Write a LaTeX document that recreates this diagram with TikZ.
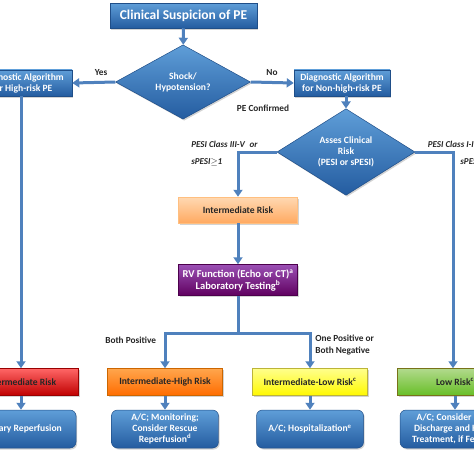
\documentclass[tikz,border=0pt]{standalone}
\usepackage{fontspec}
\setmainfont{Carlito}
\usepackage{amssymb}
\usetikzlibrary{arrows.meta,shapes.geometric,shadows,calc,positioning}

\definecolor{lineblue}{RGB}{79,129,189}
\definecolor{bluetop}{RGB}{95,158,216}
\definecolor{bluebot}{RGB}{36,92,160}

\begin{document}
\begin{tikzpicture}[x=1pt,y=-1pt,semithick]
  \tikzstyle{blk}=[rectangle, draw=bluebot!85!black, line width=0.5pt, align=center,
    top color=bluetop, bottom color=bluebot, text=white,
    font=\fontsize{9.6}{11}\selectfont\bfseries,
    drop shadow={opacity=0.35,shadow xshift=1.2pt,shadow yshift=-1.5pt}]
  \tikzstyle{dia}=[blk, diamond, inner sep=0pt]
  \tikzstyle{riskbox}=[blk, minimum width=115pt, minimum height=27pt, text=black!85]
  \tikzstyle{treat}=[blk, rounded corners=6pt, minimum height=38pt]
  \tikzstyle{flow}=[draw=lineblue, line width=3pt, -{Triangle[width=9pt,length=7pt]}]
  \tikzstyle{lbl}=[font=\fontsize{9.3}{11}\selectfont\bfseries, text=black!85, inner sep=0pt]
  \tikzstyle{pesi}=[lbl, font=\fontsize{9}{17}\selectfont\bfseries\itshape]

  \useasboundingbox (0,0) rectangle (474,474);
  \clip (0,0) rectangle (474,474);

  % top part
  \node[blk, minimum width=147pt, minimum height=25pt,
        font=\fontsize{13.5}{15}\selectfont\bfseries] (start) at (183.5,15.5) {Clinical Suspicion of PE};
  \node[dia, minimum width=135pt, minimum height=51pt] (shock) at (183,82) {Shock/\\Hypotension?};
  \node[blk, minimum width=100pt, minimum height=26pt] (hrdiag) at (22,83) {Diagnostic Algorithm\\for High-risk PE};
  \node[blk, minimum width=96pt, minimum height=26pt] (nhdiag) at (342,83) {Diagnostic Algorithm\\for Non-high-risk PE};
  \node[dia, minimum width=138pt, minimum height=60pt] (assess) at (346,152) {Asses Clinical\\Risk\\(PESI or sPESI)};

  % middle column
  \node[blk, minimum width=119pt, minimum height=26pt, top color=orange!30!white,
        bottom color=orange!60!white!95!red, draw=orange!50!white, text=black!85] (inter) at (238,210) {Intermediate Risk};
  \node[blk, minimum width=119pt, minimum height=31pt, top color=violet!65!white!90!blue,
        bottom color=violet!75!black, draw=violet!60!black,
        font=\fontsize{10.5}{12}\selectfont\bfseries] (rv) at (238,280)
        {RV Function (Echo or CT)\textsuperscript{a}\\Laboratory Testing\textsuperscript{b}};
  \coordinate (split) at (238,333);

  % risk classes
  \node[riskbox, top color=red!60!white, bottom color=red!75!black, draw=red!60!black] (high) at (21,382) {Intermediate Risk};
  \node[riskbox, top color=orange!70!white, bottom color=orange!85!red, draw=orange!80!black] (ihigh) at (165,382) {Intermediate-High Risk};
  \node[riskbox, top color=yellow!45!white, bottom color=yellow!95!orange, draw=yellow!70!black] (ilow) at (310,382) {Intermediate-Low Risk\textsuperscript{c}};
  \node[riskbox, top color=green!35!olive!45!white, bottom color=green!40!olive!85, draw=olive!80!black] (low) at (455,382) {Low Risk\textsuperscript{c}};

  % treatment
  \node[treat, minimum width=110pt] (t1) at (21,429) {Primary Reperfusion};
  \node[treat, minimum width=107pt] (t2) at (165,429) {A/C; Monitoring;\\Consider Rescue\\Reperfusion\textsuperscript{d}};
  \node[treat, minimum width=107pt] (t3) at (310,429) {A/C; Hospitalization\textsuperscript{e}};
  \node[treat, minimum width=110pt] (t4) at (455,429) {A/C; Consider Early\\Discharge and Home\\Treatment, if Feasible};

  % connectors
  \draw[flow] (start) -- (shock);
  \draw[flow] (shock.west) -- (hrdiag.east);
  \draw[flow] (shock.east) -- (nhdiag.west);
  \draw[flow] (assess.north |- nhdiag.south) -- (assess.north);
  \draw[flow] (assess.west) -| (inter.north);
  \draw[flow] (assess.east) -| ([xshift=-2pt]low.north);
  \draw[flow] (hrdiag.south -| high.north) -- (high.north);
  \draw[flow] (inter) -- (rv);
  \draw[draw=lineblue, line width=3pt] (rv) -- (split);
  \draw[flow] (split) -| (ihigh.north);
  \draw[flow] (split) -| (ilow.north);
  \foreach \r/\t in {high/t1,ihigh/t2,ilow/t3,low/t4}{
    \draw[flow] (\r) -- (\t);
  }

  % labels
  \node[lbl] (yes) at (101,73) {Yes};
  \node[lbl] (no) at (272,73) {No};
  \node[lbl] (conf) at (263,108) {PE Confirmed};
  \node[pesi, anchor=north west, align=left] (pesihi) at (191,141) {PESI Class III-V\enspace or\\sPESI$\geq$1};
  \node[pesi, anchor=north east, align=right] (pesilo) at (489,141) {PESI Class I-II\enspace or\\sPESI=0};
  \node[lbl, anchor=west] (both) at (105,340) {Both Positive};
  \node[lbl, anchor=north west, align=left, font=\fontsize{9.3}{12}\selectfont\bfseries] (onepos) at (315,335) {One Positive or\\Both Negative};
\end{tikzpicture}
\end{document}
